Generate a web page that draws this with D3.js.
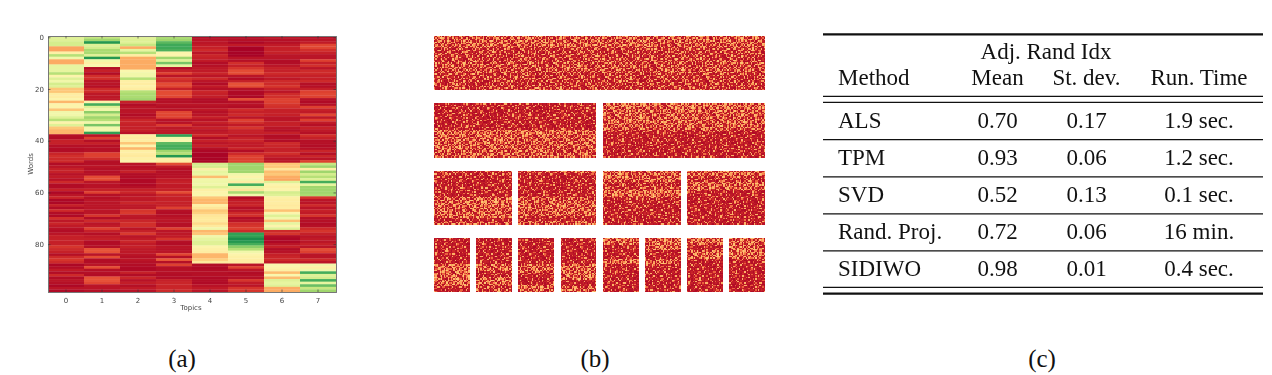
<!DOCTYPE html>
<html>
<head>
<meta charset="utf-8">
<script src="https://cdn.jsdelivr.net/npm/d3@7"></script>
<style>
	html, body { margin: 0; background: #fff; }
	svg { display: block; }
</style>
</head>
<body>
<div id="chart"></div>
<script>
const topic0 = [
	60,60,62,62,32,32,48,68,55,33, 33,58,58,58,68,50,60,55,62,60,
	38,38,47,47,50,35,50,50,38,55, 55,60,68,50,60,38,35,35,6,5,
	12,12,6,5,5,13,15,14,14,5, 8,12,12,7,10,7,14,5,5,12,
	3,8,13,3,3,12,5,14,5,4, 15,9,13,10,7,5,8,12,12,12,
	12,16,14,12,6,14,16,14,3,5, 10,5,14,5,8,6,3,8,4
];
const topic1 = [
	65,72,90,60,62,70,70,60,90,55, 48,52,5,12,5,15,15,8,8,6,
	14,14,9,9,9,50,85,60,55,75, 62,72,68,55,78,55,55,88,8,18,
	6,12,6,6,6,18,18,14,6,6, 8,6,6,6,20,20,8,7,7,12,
	18,6,6,8,8,8,8,8,8,16, 5,14,8,10,18,12,6,10,12,5,
	5,6,21,21,8,20,5,5,8,20, 6,6,5,21,21,19,8,8,6
];
const topic2 = [
	60,60,60,65,33,58,68,47,33,33, 33,33,33,52,55,55,68,48,47,49,
	47,68,70,70,72,12,5,8,8,8, 5,8,13,13,12,12,12,7,48,47,
	47,38,50,35,48,47,46,48,50,8, 7,8,12,5,5,4,4,4,6,12,
	13,8,10,9,13,9,9,16,17,9, 8,13,15,15,8,12,17,8,10,13,
	10,12,9,9,8,6,8,6,5,4, 4,12,5,13,7,11,6,10,7
];
const topic3 = [
	70,72,82,86,86,84,50,50,72,60, 78,58,5,12,18,8,16,14,20,19,
	12,20,20,19,6,6,8,6,8,19, 19,18,7,7,17,9,9,9,88,55,
	52,82,85,85,72,68,90,48,47,20, 10,6,6,6,7,10,12,10,10,12,
	20,13,12,12,12,12,18,6,5,6, 8,8,6,6,18,8,9,10,16,6,
	5,8,7,8,19,6,22,6,18,6, 6,6,5,5,12,13,13,13,14
];
const topic4 = [
	5,8,8,10,12,14,8,13,12,10, 5,6,9,10,13,8,14,8,5,10,
	6,13,12,11,5,5,8,6,9,6, 8,12,7,12,8,12,8,10,14,5,
	12,8,12,6,3,2,2,2,2,62, 62,48,58,57,36,55,56,55,60,48,
	50,52,38,35,35,48,45,38,40,45, 46,46,42,46,55,35,38,55,58,60,
	60,50,48,47,35,35,40,46,5,4, 5,6,6,4,5,4,7,10,8
];
const topic5 = [
	5,6,3,10,1,1,1,1,8,6, 15,12,16,20,20,8,5,12,21,20,
	6,4,4,3,20,6,7,5,14,12, 14,8,18,15,10,16,12,12,8,12,
	13,10,10,13,5,14,18,18,18,72, 72,72,72,55,50,55,47,85,58,45,
	70,55,5,10,12,13,6,8,14,15, 5,8,15,16,18,14,88,88,92,90,
	85,75,68,55,50,48,47,47,8,18, 8,5,6,6,16,10,8,16,16
];
const topic6 = [
	8,6,6,10,12,12,12,8,8,5, 5,8,12,12,14,12,9,14,14,16,
	12,8,14,15,18,18,16,15,12,12, 12,8,8,12,12,8,6,12,5,6,
	5,14,13,12,12,15,12,8,8,38, 38,45,36,38,33,32,60,50,48,50,
	62,60,48,47,47,46,47,37,50,60, 55,37,58,50,60,14,16,5,3,3,
	8,12,5,7,12,13,14,10,52,50, 48,36,52,36,60,58,60,33,33
];
const topic7 = [
	6,8,10,19,19,15,12,8,8,18, 12,15,8,14,14,12,12,14,6,6,
	12,18,19,18,6,4,6,18,12,10, 19,9,18,10,6,12,9,6,15,12,
	6,6,5,6,13,6,13,8,18,65, 72,48,72,62,68,60,85,58,72,72,
	72,70,16,8,8,14,8,12,10,16, 6,6,5,6,14,16,12,8,10,8,
	12,8,20,18,8,8,14,8,55,48, 55,85,60,62,85,58,80,65,72
];
const topics = [topic0, topic1, topic2, topic3, topic4, topic5, topic6, topic7];
const wordTicks = [0, 20, 40, 60, 80];

// panel (b): for each block, horizontal bands as [bottom edge as share of height, share of light cells]
const level1 = [
	[[0.2, 0.5], [0.45, 0.34], [0.7, 0.4], [1, 0.32]]
];
const level2 = [
	[[0.48, 0.18], [0.6, 0.58], [0.85, 0.47], [0.93, 0.42], [1, 0.47]],
	[[0.08, 0.6], [0.48, 0.48], [0.52, 0.3], [1, 0.18]]
];
const level3 = [
	[[0.1, 0.26], [0.5, 0.19], [0.87, 0.55], [0.95, 0.16], [1, 0.46]],
	[[0.05, 0.4], [0.48, 0.19], [0.85, 0.5], [0.93, 0.16], [1, 0.5]],
	[[0.2, 0.5], [0.37, 0.28], [0.48, 0.6], [1, 0.2]],
	[[0.1, 0.55], [0.2, 0.28], [0.37, 0.55], [1, 0.18]]
];
const level4 = [
	[[0.5, 0.16], [0.9, 0.58], [1, 0.16]],
	[[0.5, 0.18], [0.62, 0.5], [0.72, 0.2], [0.88, 0.55], [1, 0.3]],
	[[0.49, 0.16], [0.63, 0.5], [0.88, 0.16], [1, 0.55]],
	[[0.49, 0.16], [0.76, 0.55], [0.89, 0.14], [1, 0.55]],
	[[0.12, 0.55], [0.38, 0.16], [0.49, 0.58], [1, 0.18]],
	[[0.24, 0.55], [0.38, 0.16], [0.49, 0.55], [1, 0.18]],
	[[0.12, 0.55], [0.24, 0.16], [0.38, 0.55], [1, 0.16]],
	[[0.38, 0.55], [1, 0.16]]
];
const levels = [level1, level2, level3, level4];

// the single cells of (b) can't be read off the picture, only the bands above can,
// so the speckle is this typed tile, repeated over the blocks
const speckle = [
	"3811509264408375592174689302771564928",
	"7294001382257194466038919571460325518",
	"1508833764299508173664215087730642019",
	"9642117150038926447150382926674715033",
	"4071559283361407799283614005592836147",
	"2859361770428893617042285936117042856",
	"6317704825596370482596631170248259306",
	"8144260953773814660953738814260995370",
	"0735924116807359924168007359241160735",
	"5498827031654988270316549982703315498",
	"3920048175529204817563920048117539204",
	"1674883950216774839502116748395502167",
	"7253119608427531196084275331960842753",
	"4490172358660134725899012674335819062",
	"9023618847551276093344817260599138476",
	"2617745093188362150497726830415569028",
	"5188306429977041265538890217466305194"
];

// panel (c)
const tableMethods = ["ALS", "TPM", "SVD", "Rand. Proj.", "SIDIWO"];
const tableMean = ["0.70", "0.93", "0.52", "0.72", "0.98"];
const tableDev = ["0.17", "0.06", "0.13", "0.06", "0.01"];
const tableTime = ["1.9 sec.", "1.2 sec.", "0.1 sec.", "16 min.", "0.4 sec."];
const captions = ["(a)", "(b)", "(c)"];

const serif = "'Liberation Serif', 'Times New Roman', serif";
// reds of the picture sit lower on RdYlGn than an even scale would put them
const colorPos = d3.scaleLinear().domain([0, 12, 22, 33, 100]).range([0, 0.065, 0.165, 0.3, 1]);
const color = v => d3.interpolateRdYlGn(colorPos(v));

const svg = d3.select("#chart")
	.append("svg")
		.attr("width", 1272)
		.attr("height", 375);

// (a) heatmap
const x = d3.scaleBand()
	.domain(d3.range(topics.length))
	.range([48, 336]);
const y = d3.scaleLinear()
	.domain([-0.5, topic0.length - 0.5])
	.range([36, 292]);

const heat = svg.append("g").style("filter", "blur(0.45px)");
topics.forEach((values, t) => {
	heat.append("g")
		.selectAll("rect")
		.data(values)
		.join("rect")
			.attr("x", x(t))
			.attr("y", (d, i) => y(i - 0.5))
			.attr("width", x.bandwidth())
			.attr("height", y(1) - y(0) + 0.3)
			.attr("fill", d => color(d));
});

const axes = svg.append("g").style("filter", "blur(0.3px)");
axes.append("g")
	.attr("transform", "translate(0,292)")
	.call(d3.axisBottom(x).tickSize(-2.5).tickPadding(6));
axes.append("g")
	.attr("transform", "translate(0,36)")
	.call(d3.axisTop(x).tickSize(-2.5).tickFormat(""));
axes.append("g")
	.attr("transform", "translate(48,0)")
	.call(d3.axisLeft(y).tickValues(wordTicks).tickSize(-2.5).tickPadding(4));
axes.append("g")
	.attr("transform", "translate(336,0)")
	.call(d3.axisRight(y).tickValues(wordTicks).tickSize(-2.5).tickFormat(""));
axes.selectAll(".tick line").attr("stroke", "#333").attr("stroke-width", 0.6);
axes.selectAll(".domain").attr("stroke", "#777").attr("stroke-width", 1);
axes.selectAll("text")
	.attr("font-family", "'DejaVu Sans', sans-serif")
	.attr("font-size", 7)
	.attr("fill", "#444");
axes.append("text")
	.attr("x", 191)
	.attr("y", 310)
	.attr("text-anchor", "middle")
	.attr("font-family", "'DejaVu Sans', sans-serif")
	.attr("font-size", 7)
	.attr("fill", "#444")
	.text("Topics");
axes.append("text")
	.attr("transform", "translate(33,164) rotate(-90)")
	.attr("text-anchor", "middle")
	.attr("font-family", "'DejaVu Sans', sans-serif")
	.attr("font-size", 7)
	.attr("fill", "#444")
	.text("Words");

// (b) block rasters
const rowY = d3.scaleBand()
	.domain(d3.range(levels.length))
	.range([36, 292])
	.paddingInner(0.195);
const cellSize = 1.4;
const light = d3.scaleLinear().domain([0, 1]).range([39, 22]);
const dark = d3.scaleLinear().domain([0, 1]).range([15, 3]);

const raster = svg.append("g").style("filter", "blur(0.4px)");
levels.forEach((blocks, l) => {
	const blockX = d3.scaleBand()
		.domain(d3.range(blocks.length))
		.range([434, 765])
		.paddingInner(blocks.length > 1 ? 6.3 / (331 / blocks.length) : 0);
	blocks.forEach((bands, b) => {
		const w = blockX.bandwidth();
		const h = rowY.bandwidth();
		const cols = d3.scaleBand()
			.domain(d3.range(Math.round(w / cellSize)))
			.range([blockX(b), blockX(b) + w]);
		const rows = d3.scaleBand()
			.domain(d3.range(Math.round(h / cellSize)))
			.range([rowY(l), rowY(l) + h]);
		const bandAt = d3.bisector(d => d[0]).right;
		const cells = d3.cross(rows.domain(), cols.domain(), (r, c) => {
			const share = bands[Math.min(bandAt(bands, (r + 0.5) / rows.domain().length), bands.length - 1)][1];
			// shift the tile per block and per repeat so it doesn't line up
			const line = speckle[(r + 3 * l + 5 * b + 7 * Math.floor(c / 37)) % speckle.length];
			const digit = (+line[(c + 11 * l + 4 * b + 13 * Math.floor(r / 17)) % line.length] + 0.5) / 10;
			return {r, c, v: digit < share ? light(digit / share) : dark((digit - share) / (1 - share))};
		});
		raster.append("g")
			.attr("shape-rendering", "crispEdges")
			.selectAll("rect")
			.data(cells)
			.join("rect")
				.attr("x", d => cols(d.c))
				.attr("y", d => rows(d.r))
				.attr("width", cols.bandwidth() + 0.1)
				.attr("height", rows.bandwidth() + 0.1)
				.attr("fill", d => color(d.v));
	});
});

// (c) table
const tableLeft = 823;
const tableRight = 1263;
const tableRow = d3.scaleLinear().domain([0, tableMethods.length - 1]).range([127.7, 276]);
const colCenter = d3.scaleOrdinal().domain(["mean", "dev", "time"]).range([997.5, 1086.5, 1199]);
const table = svg.append("g")
	.attr("font-family", serif)
	.attr("font-size", 23)
	.attr("fill", "#111")
	.style("filter", "blur(0.35px)");

const rules = [
	{y: 34.3, w: 2.2}, {y: 96.3, w: 1.3}, {y: 102.3, w: 1.3},
	...d3.range(tableMethods.length - 1).map(i => ({y: tableRow(i) + 12, w: 1.3})),
	{y: 287.3, w: 1.3}, {y: 293.7, w: 2.2}
];
table.selectAll("line")
	.data(rules)
	.join("line")
		.attr("x1", tableLeft)
		.attr("x2", tableRight)
		.attr("y1", d => d.y)
		.attr("y2", d => d.y)
		.attr("stroke", "#111")
		.attr("stroke-width", d => d.w);

const head = table.append("g");
head.append("text").attr("x", 1046).attr("y", 59.3).attr("text-anchor", "middle").text("Adj. Rand Idx");
head.append("text").attr("x", 838).attr("y", 85).text("Method");
head.append("text").attr("x", colCenter("mean")).attr("y", 85).attr("text-anchor", "middle").text("Mean");
head.append("text").attr("x", colCenter("dev")).attr("y", 85).attr("text-anchor", "middle").text("St. dev.");
head.append("text").attr("x", colCenter("time")).attr("y", 85).attr("text-anchor", "middle").text("Run. Time");

table.append("g")
	.selectAll("text")
	.data(tableMethods)
	.join("text")
		.attr("x", 838)
		.attr("y", (d, i) => tableRow(i))
		.text(d => d);
[["mean", tableMean], ["dev", tableDev], ["time", tableTime]].forEach(([key, values]) => {
	table.append("g")
		.selectAll("text")
		.data(values)
		.join("text")
			.attr("x", colCenter(key))
			.attr("y", (d, i) => tableRow(i))
			.attr("text-anchor", "middle")
			.text(d => d);
});

// captions
const captionX = d3.scaleOrdinal().domain(captions).range([182, 595, 1042]);
svg.append("g")
	.selectAll("text")
	.data(captions)
	.join("text")
		.attr("x", d => captionX(d))
		.attr("y", 367)
		.attr("text-anchor", "middle")
		.attr("font-family", serif)
		.attr("font-size", 25)
		.attr("fill", "#111")
		.text(d => d);
</script>
</body>
</html>
